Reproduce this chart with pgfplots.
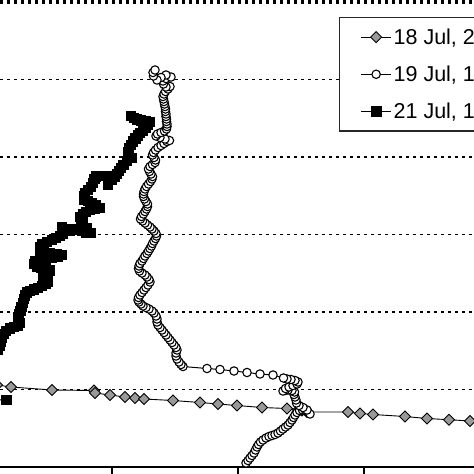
\documentclass[border=0pt]{standalone}
\usepackage{fontspec}
\setmainfont{Liberation Sans}
\usepackage{pgfplots}
\pgfplotsset{compat=1.18}

\begin{document}
\begin{tikzpicture}
\path[use as bounding box] (0,0) rectangle (474pt,474pt);
\clip (0,0) rectangle (474pt,474pt);
\begin{axis}[
    at={(238pt,250.5pt)}, anchor=center,
    scale only axis, width=504pt, height=487pt,
    xmin=-14, xmax=490, ymin=-20, ymax=467, y dir=reverse,
    axis line style={line width=1.5pt, black},
    xtick={-14,112,238,364,490}, xticklabels={},
    ytick={79.5,157,234.5,312,389.5}, yticklabels={},
    extra y ticks={2}, extra y tick labels={},
    extra y tick style={grid=major, grid style={black, line width=3.5pt, dash pattern=on 3.2pt off 3.8pt}},
    ymajorgrids,
    grid style={black, line width=1.7pt, dash pattern=on 3pt off 4pt},
    tick align=outside, major tick length=10pt,
    tick style={black, line width=1.5pt},
    legend cell align=left,
    legend style={at={(axis cs:339,17)}, anchor=north west,
        draw=black!85, line width=1.3pt, fill=white,
        font=\fontsize{21.5}{24}\selectfont,
        inner xsep=21pt, inner ysep=9pt, row sep=16pt},
    legend image code/.code={\draw[mark repeat=2,mark phase=2,#1]
        plot coordinates {(0pt,0pt) (15pt,0pt) (30pt,0pt)};},
]
% 18 Jul
\addplot[black, line width=0.9pt, mark=square*, mark size=3.9pt,
    mark options={rotate=45, fill=black!40, draw=black, line width=0.9pt}]
coordinates {
(-3,385) (11,387) (52,390) (94,390.5) (95,393) (110,395) (125,397) (135,398)
(144,399) (173,400.5) (200,402.5) (218,404) (237,405.5) (262,407.5) (287,408.5)
(298,410) (302,410.5) (307,412) (348,412) (360,413.5) (373,414.5) (405,416.5)
(427,418.5) (449,419.7) (470,421) (495,423)
};
\addlegendentry{18 Jul, 23:00 UTC}
% 19 Jul
\addplot[black, line width=1pt, mark=*, mark size=4.2pt,
    mark options={fill=white, draw=black, line width=1.1pt}]
coordinates {
(246,463) (248,460.5) (250,458) (252,455.5) (254,453) (255.5,450) (257,447)
(258.5,444.5) (260.5,442) (263,440) (266,438) (269,436.5) (272,435.5) (275,434.5)
(278,433) (280.5,431) (283,429) (285.5,427) (288,425) (290,422.5) (292,420)
(293.5,417.5) (295,415) (297,412.5) (299.5,410.5) (302.5,410) (305.5,410.5)
(308,412) (310,414) (307,410) (303,407.5) (299,405.5) (296.5,403) (296,400)
(295,397) (294,394.5) (294.5,392) (292,390.5) (288,390) (285,390.5) (283,391)
(285.5,388.5) (289,387) (293,385.5) (297,384) (298,382) (295,380.5) (291,379.5)
(287,379) (283.5,378) (273,375) (260,374) (247,372.5) (234,371) (220,369.5)
(207,368.5) (183,366.5)
(181,364.5) (179,362) (177,359) (176,356) (176,353) (177,350) (176,347.5) (174,345)
(172,342.5) (170,340) (168,337.5) (166,335) (164,332.5) (162,330) (160,327.5)
(158,325) (157,322) (157,319) (156,316) (154,313) (152,311) (149,309) (146,307.5)
(143,306) (141,304) (139,302) (138,300) (138.5,297.5) (140,295) (142,292.5)
(144,290) (146,287.5) (148,285) (150,282) (149,279.5) (147,277) (145,275)
(142,273) (139.5,271) (138.5,268.5) (139,266) (140,263.5) (142,261) (143.5,258.5)
(145,256) (147,253.5) (148.5,251) (150,248.5) (151.5,246) (152.5,243.5) (154,241)
(155.5,238.5) (156.5,236) (156,233.5) (154,231) (152,229) (150,227) (147.5,225)
(145,223) (142.5,221) (140.5,219) (141.5,216.5) (143.5,214) (145,211.5)
(146.5,209) (147.5,206.5) (147.5,204) (146,201.5) (144.5,199) (143.5,196.5)
(143.5,194) (144,191.5) (145,189) (146.5,186.5) (148.5,184) (150.5,181.5)
(152,179) (152.5,176.5) (151,174) (149.5,171.5) (148.5,169) (150,166.5)
(152.5,164.5) (155,162.5) (155.5,160) (154,157.5) (152.5,155) (153.5,152.5)
(155.5,150) (158,147.5) (161,145.5) (164,143.5) (167,141.5) (169.5,140.5)
(165,139) (160,137.5) (156,136) (157.5,134) (161,132.5) (164.5,131) (166.5,129)
(167,126.5) (167,124) (166.5,121.5) (166.5,119) (166,116.5) (166,114) (165.5,111.5)
(165.5,109) (165,106.5) (164.5,104) (164,101.5) (163.5,99) (163,96.5) (164,94)
(165.5,91.5) (168,89) (170,86.5) (166,87) (163.5,84) (163,81) (166,78.5) (171,77)
(166,75) (161,77.5) (157,80) (153.5,76) (153,72.5) (155,70)
};
\addlegendentry{19 Jul, 11:00 UTC}
% 21 Jul
\addplot[black, line width=0.9pt, mark=square*, mark size=4.8pt,
    mark options={fill=black, draw=black}]
coordinates {
(6.7,400) (-25,399) (-20,360) (-2,350) (0,346) (1,342) (2,338) (4,334) (6,331)
(10,328.5) (14,327) (18,325.5) (20,323) (19,320) (18,317) (19,314) (20.5,311)
(21.5,307) (23,303) (24,299) (25,295.5) (27,292.5) (30,291) (34,289.5) (38,288)
(42,286) (46,284) (47.5,281.5) (45,279) (43.5,276) (46,273) (50,270.5) (46,268.5)
(41,268) (37,267) (34.5,264) (35,261.5) (40,259.5) (46,259) (52,257.5) (58,256.5)
(62,255) (57,254) (50,253.5) (44,252.5) (40,250.5) (40.5,247) (42.5,244) (47,242)
(52,240) (56,238) (60,236) (63,233.5) (62,230.5) (62,227) (66,229.5) (70,231)
(74,229) (78,229.5) (82,231) (86,232.5) (91,233) (87,228) (83,224.5) (81,221)
(80,217) (83,214) (86,212) (90,210) (95,209) (100,208) (96,205) (92,203) (88,201)
(84,199.5) (84,196) (85,193) (88,190) (91,187) (93,183) (94.5,179) (96,176.5)
(101,176) (106,176) (108,180) (108,185) (112,180) (115,176.5) (117,174) (119,171)
(121,168) (123.5,165) (127,161) (132,158) (129,156) (128,152) (129,148.5) (131,145)
(133,141.5) (135.5,138.5) (138,135.5) (140,133) (143,130.5) (146,128) (148,125)
(150,122) (146,121) (141,120.5) (137,119.5) (134,118) (131,116)
};
\addlegendentry{21 Jul, 17:00 UTC}
\end{axis}
\end{tikzpicture}
\end{document}
